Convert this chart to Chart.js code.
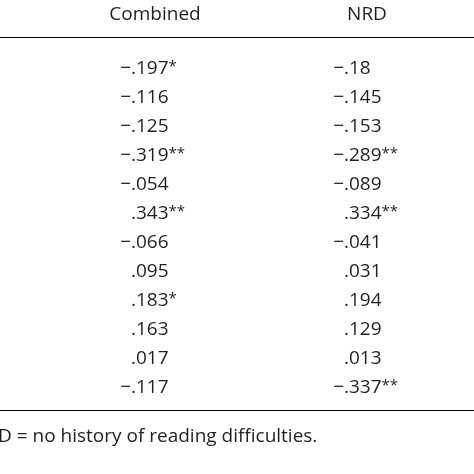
<!DOCTYPE html>
<html><head><meta charset="utf-8">
<script src="https://cdn.jsdelivr.net/npm/chart.js@4"></script>
<style>html,body{margin:0;background:#fff}#c{width:474px;height:474px}</style>
</head><body><div id="c"><canvas id="chart"></canvas></div>
<script>
const columns = ['Combined', 'NRD'];
const combined = [-.197, -.116, -.125, -.319, -.054, .343, -.066, .095, .183, .163, .017, -.117];
const combinedSig = ['*', '', '', '**', '', '**', '', '', '*', '', '', ''];
const nrd = [-.18, -.145, -.153, -.289, -.089, .334, -.041, .031, .194, .129, .013, -.337];
const nrdSig = ['', '', '', '**', '', '**', '', '', '', '', '', '**'];
const footnote = 'D = no history of reading difficulties.';
const rows = combined.map((_, i) => String(i));

const FONT = '19px "Open Sans", "Liberation Sans", sans-serif';
const STAR_FONT = '15px "Open Sans", "Liberation Sans", sans-serif';
const INK = '#231f20';

function fmt(v) {
  const s = String(Math.abs(v)).replace(/^0/, '');
  return { sign: v < 0 ? '\u2212' : '', rest: s };
}

const tablePlugin = {
  id: 'table',
  afterDatasetsDraw(chart) {
    const ctx = chart.ctx;
    ctx.save();
    ctx.fillStyle = INK;
    ctx.font = FONT;
    ctx.textBaseline = 'middle';
    const sigs = [combinedSig, nrdSig];
    chart.data.datasets.forEach((ds, di) => {
      const meta = chart.getDatasetMeta(di);
      meta.data.forEach((pt, i) => {
        const f = fmt(ds.data[i].v);
        ctx.font = FONT;
        ctx.textAlign = 'right';
        ctx.fillText(f.sign, pt.x, pt.y);
        ctx.textAlign = 'left';
        ctx.fillText(f.rest, pt.x, pt.y);
        const w = ctx.measureText(f.rest).width;
        ctx.font = STAR_FONT;
        ctx.fillText(sigs[di][i], pt.x + w, pt.y - 2);
      });
      ctx.font = FONT;
      ctx.textAlign = 'center';
      ctx.fillText(columns[di], ds.headerX, 15);
    });
    ctx.strokeStyle = '#000';
    ctx.lineWidth = 1;
    [37.5, 410.5].forEach(y => {
      ctx.beginPath(); ctx.moveTo(0, y); ctx.lineTo(chart.width, y); ctx.stroke();
    });
    ctx.font = FONT;
    ctx.textAlign = 'left';
    ctx.fillText(footnote, -2, 437);
    ctx.restore();
  }
};

new Chart(document.getElementById('chart'), {
  type: 'scatter',
  data: {
    datasets: [
      { data: combined.map((v, i) => ({ x: 131, y: rows[i], v })), headerX: 155, pointRadius: 0 },
      { data: nrd.map((v, i) => ({ x: 344, y: rows[i], v })), headerX: 367, pointRadius: 0 }
    ]
  },
  options: {
    responsive: true,
    maintainAspectRatio: false,
    animation: false,
    layout: { padding: { top: 54, bottom: 72, left: 0, right: 0 } },
    plugins: { legend: { display: false }, tooltip: { enabled: false } },
    scales: {
      x: { type: 'linear', min: 0, max: 474, display: false },
      y: { type: 'category', labels: rows, offset: true, display: false }
    }
  },
  plugins: [tablePlugin]
});
</script></body></html>
